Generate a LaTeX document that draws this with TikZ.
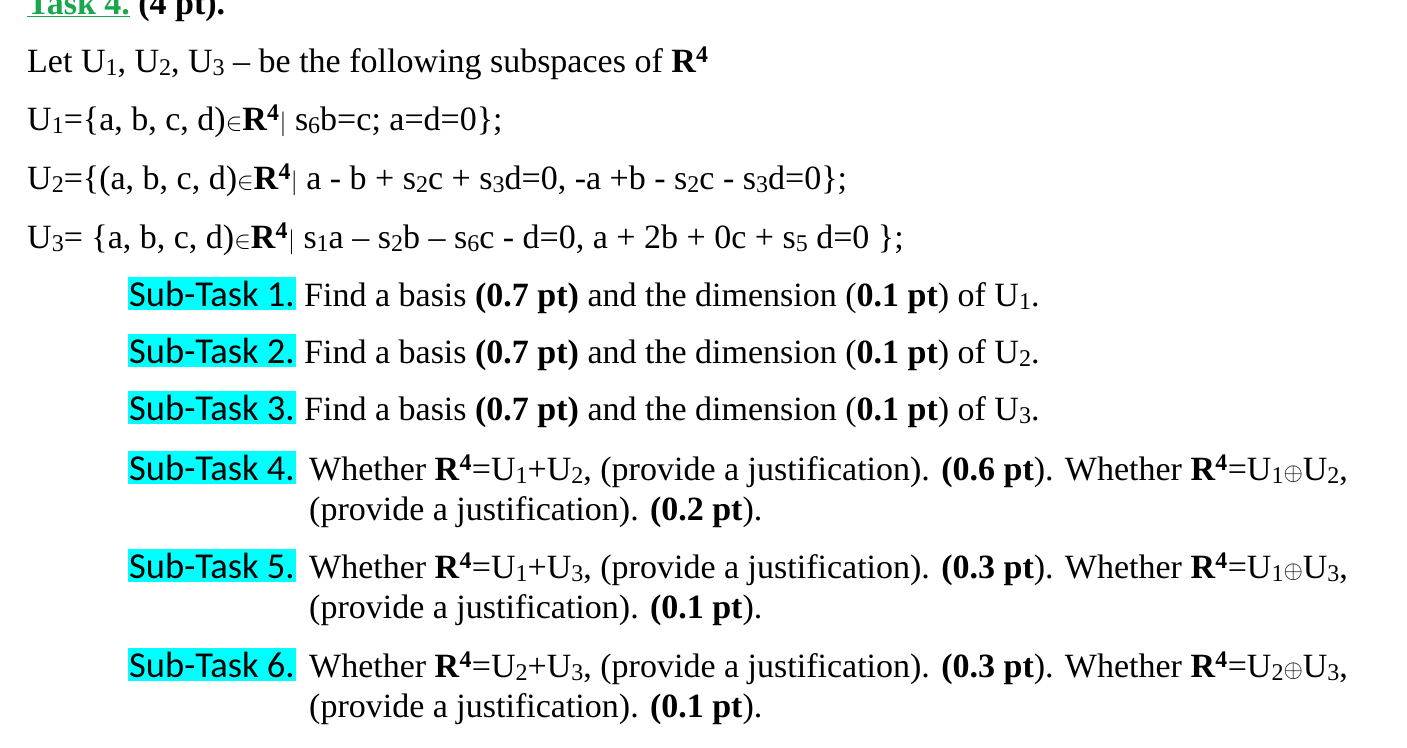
\documentclass[tikz,border=0pt]{standalone}
\usepackage{fontspec}
\setmainfont{Liberation Serif}
\newfontfamily\calib{Carlito}
\definecolor{hcyan}{RGB}{0,255,255}
\newcommand{\sbx}[1]{\raisebox{-0.2ex}{\fontsize{24}{24}\selectfont #1}}
\begin{document}
\begin{tikzpicture}[x=1pt,y=-1pt,
  ln/.style={anchor=base west,inner sep=0pt,font=\fontsize{34}{40}\selectfont},
  hl/.style={anchor=base west,inner xsep=1pt,inner ysep=4pt,fill=hcyan,font=\calib\fontsize{36.5}{40}\selectfont}]
\useasboundingbox (0,0) rectangle (1407,747);
\node[ln] (t) at (27,14) {\textcolor[rgb]{0.1,0.65,0.3}{\textbf{\underline{Task 4.}}} \textbf{(4 pt).}};
\node[ln] (l1) at (27,72) {Let U\sbx{1}, U\sbx{2}, U\sbx{3} -- be the following subspaces of \textbf{R}\textsuperscript{\textbf{4}}};
\node[ln] (l2) at (27,130) {U\sbx{1}=\{a, b, c, d)$\in$\textbf{R}\textsuperscript{\textbf{4}}$|$ s\sbx{6}b=c; a=d=0\};};
\node[ln] (l3) at (27,189) {U\sbx{2}=\{(a, b, c, d)$\in$\textbf{R}\textsuperscript{\textbf{4}}$|$ a - b + s\sbx{2}c + s\sbx{3}d=0, -a +b - s\sbx{2}c - s\sbx{3}d=0\};};
\node[ln] (l4) at (27,248) {U\sbx{3}= \{a, b, c, d)$\in$\textbf{R}\textsuperscript{\textbf{4}}$|$ s\sbx{1}a -- s\sbx{2}b -- s\sbx{6}c - d=0, a + 2b + 0c + s\sbx{5} d=0 \};};
\foreach \y/\n/\u in {306/1/1,363/2/2,420/3/3}{
  \node[hl] (h\n) at (128,\y) {Sub-Task \n.};
  \node[ln] (s\n) at (304,\y) {Find a basis \textbf{(0.7 pt)} and the dimension (\textbf{0.1 pt}) of U\sbx{\u}.};
}
\foreach \y/\n/\a/\b/\p/\q in {480/4/1/2/0.6/0.2,578/5/1/3/0.3/0.1,677/6/2/3/0.3/0.1}{
  \node[hl] (h\n) at (128,\y) {Sub-Task \n.};
  \node[ln] (s\n) at (309,\y) {Whether \textbf{R}\textsuperscript{\textbf{4}}=U\sbx{\a}+U\sbx{\b}, (provide a justification). \textbf{(\p\ pt}). Whether \textbf{R}\textsuperscript{\textbf{4}}=U\sbx{\a}$\oplus$U\sbx{\b},};
  \node[ln] (r\n) at (309,\y+40) {(provide a justification). \textbf{(\q\ pt}).};
}
\end{tikzpicture}
\end{document}
